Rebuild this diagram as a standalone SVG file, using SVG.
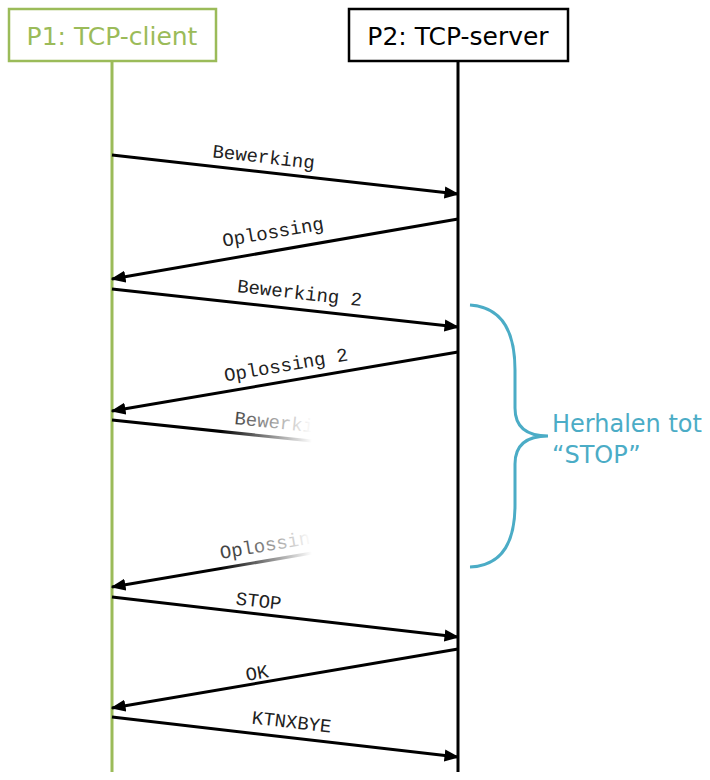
<svg xmlns="http://www.w3.org/2000/svg" width="710" height="780" viewBox="0 0 710 780">
<style>
.msg{stroke:#000;stroke-width:3;fill:none}
.lbl{font-family:"Liberation Mono",monospace;font-size:19px;fill:#222;text-anchor:middle}
.title{font-family:"DejaVu Sans",sans-serif;font-size:25px;text-anchor:middle}
</style>
<defs>
<marker id="ah" viewBox="0 0 10 10" refX="9" refY="5" markerWidth="5" markerHeight="5" orient="auto" markerUnits="strokeWidth"><path d="M0,1 L10,5 L0,9 z" fill="#000"/></marker>
<linearGradient id="fadeR" gradientUnits="userSpaceOnUse" x1="220" y1="0" x2="312" y2="0"><stop offset="0" stop-color="#000"/><stop offset="1" stop-color="#000" stop-opacity="0"/></linearGradient>
<linearGradient id="fadeT1" gradientUnits="userSpaceOnUse" x1="0" y1="0" x2="78" y2="0"><stop offset="0" stop-color="#444"/><stop offset="1" stop-color="#444" stop-opacity="0"/></linearGradient>
<linearGradient id="fadeT2" gradientUnits="userSpaceOnUse" x1="20" y1="0" x2="92" y2="0"><stop offset="0" stop-color="#444"/><stop offset="1" stop-color="#444" stop-opacity="0"/></linearGradient>
</defs>
<g id="p1"><rect x="9" y="9" width="207" height="52" fill="#fff" stroke="#9BBB59" stroke-width="2.5"/><text class="title" x="112" y="45" fill="#9BBB59">P1: TCP-client</text><line x1="112" y1="61" x2="112" y2="772" stroke="#9BBB59" stroke-width="3"/></g>
<g id="p2"><rect x="349" y="9" width="219" height="52" fill="#fff" stroke="#000" stroke-width="2.5"/><text class="title" x="458" y="45" fill="#000">P2: TCP-server</text><line x1="458" y1="61" x2="458" y2="772" stroke="#000" stroke-width="3"/></g>
<g id="connectors">
<line class="msg" x1="112" y1="155" x2="458" y2="194" marker-end="url(#ah)"/>
<line class="msg" x1="458" y1="219" x2="112" y2="279" marker-end="url(#ah)"/>
<line class="msg" x1="112" y1="289" x2="458" y2="327" marker-end="url(#ah)"/>
<line class="msg" x1="458" y1="352" x2="112" y2="411" marker-end="url(#ah)"/>
<line x1="112" y1="420" x2="312" y2="441" stroke="url(#fadeR)" stroke-width="3"/>
<line x1="312" y1="553" x2="112" y2="587" stroke="url(#fadeR)" stroke-width="3" marker-end="url(#ah)"/>
<line class="msg" x1="112" y1="597" x2="458" y2="637" marker-end="url(#ah)"/>
<line class="msg" x1="458" y1="649" x2="112" y2="708" marker-end="url(#ah)"/>
<line class="msg" x1="112" y1="717" x2="458" y2="757" marker-end="url(#ah)"/>
</g>
<g id="labels">
<text class="lbl" transform="translate(263,163) rotate(6.4)">Bewerking</text>
<text class="lbl" transform="translate(274,238) rotate(-9.8)">Oplossing</text>
<text class="lbl" transform="translate(299,299) rotate(6.3)">Bewerking 2</text>
<text class="lbl" transform="translate(287,371) rotate(-9.7)">Oplossing 2</text>
<text class="lbl" style="text-anchor:start;fill:url(#fadeT1)" transform="translate(234,424) rotate(6)">Bewerking</text>
<text class="lbl" style="text-anchor:start;fill:url(#fadeT2)" transform="translate(221,559) rotate(-9.7)">Oplossing</text>
<text class="lbl" transform="translate(258,607) rotate(6.6)">STOP</text>
<text class="lbl" transform="translate(258,679) rotate(-9.7)">OK</text>
<text class="lbl" transform="translate(291,728) rotate(6.6)">KTNXBYE</text>
</g>
<g id="brace">
<path d="M470,305 Q515,308 515,370 L515,408 Q515,436 548,436 Q515,436 515,464 L515,505 Q515,565 470,567" fill="none" stroke="#4BACC6" stroke-width="3"/>
<text x="552" y="432" font-family="DejaVu Sans,sans-serif" font-size="24" fill="#4BACC6">Herhalen tot</text>
<text x="552" y="463" font-family="DejaVu Sans,sans-serif" font-size="24" fill="#4BACC6">“STOP”</text>
</g>
</svg>
